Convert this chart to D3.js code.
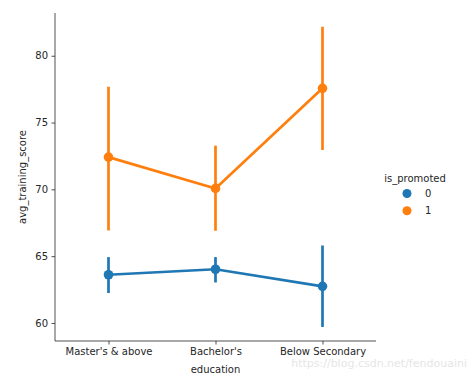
<!DOCTYPE html>
<html><head><meta charset="utf-8">
<script src="https://cdn.jsdelivr.net/npm/d3@7"></script>
<style>body{margin:0;background:#fff}svg{display:block;font-family:"DejaVu Sans",sans-serif}</style>
</head><body>
<svg id="c" width="474" height="380"></svg>
<script>
const categories = ["Master's & above", "Bachelor's", "Below Secondary"];
const seriesNames = ["0", "1"];
const mean0 = [63.61, 64.02, 62.74];
const lo0 = [62.24, 63.03, 59.70];
const hi0 = [64.93, 64.93, 65.80];
const mean1 = [72.41, 70.07, 77.56];
const lo1 = [66.92, 66.90, 72.95];
const hi1 = [77.68, 73.27, 82.17];
const yTicks = [60, 65, 70, 75, 80];
const colors = ["#1f77b4", "#ff7f0e"];

const svg = d3.select("#c");
const L = 55, R = 376, T = 13, B = 341;
const x = d3.scalePoint().domain(categories).range([L, R]).padding(0.5);
const y = d3.scaleLinear().domain([58.65, 83.2]).range([B, T]);

const series = [
  {name: seriesNames[0], mean: mean0, lo: lo0, hi: hi0, color: colors[0]},
  {name: seriesNames[1], mean: mean1, lo: lo1, hi: hi1, color: colors[1]}
];

// axes
const yAxis = svg.append("g").attr("transform", `translate(${L},0)`)
  .call(d3.axisLeft(y).tickValues(yTicks).tickSize(3.5).tickPadding(3.5));
const xAxis = svg.append("g").attr("transform", `translate(0,${B})`)
  .call(d3.axisBottom(x).tickSize(3.5).tickPadding(3.5));
[yAxis, xAxis].forEach(g => {
  g.selectAll("text").attr("font-size", 10).attr("fill", "#262626").attr("font-family", "DejaVu Sans");
  g.selectAll("line").attr("stroke", "#262626").attr("stroke-width", 0.8);
  g.select(".domain").attr("stroke", "#262626").attr("stroke-width", 0.8);
});
xAxis.select(".domain").attr("d", `M${L},0H${R}`);
yAxis.select(".domain").attr("d", `M0,${B}V${T}`);

// axis labels
svg.append("text").attr("x", (L + R) / 2).attr("y", 373).attr("text-anchor", "middle")
  .attr("font-size", 10).attr("fill", "#262626").text("education");
svg.append("text").attr("transform", `translate(26,${(T + B) / 2}) rotate(-90)`)
  .attr("text-anchor", "middle").attr("font-size", 10).attr("fill", "#262626").text("avg_training_score");

// series
series.forEach(s => {
  const g = svg.append("g");
  g.selectAll("line.ci").data(categories).enter().append("line")
    .attr("x1", d => x(d)).attr("x2", d => x(d))
    .attr("y1", (d, i) => y(s.lo[i])).attr("y2", (d, i) => y(s.hi[i]))
    .attr("stroke", s.color).attr("stroke-width", 2.7);
  const line = d3.line().x((d, i) => x(categories[i])).y(d => y(d));
  g.append("path").attr("d", line(s.mean)).attr("fill", "none")
    .attr("stroke", s.color).attr("stroke-width", 2.7);
  g.selectAll("circle").data(s.mean).enter().append("circle")
    .attr("cx", (d, i) => x(categories[i])).attr("cy", d => y(d))
    .attr("r", 4.8).attr("fill", s.color);
});

// legend
const lg = svg.append("g");
lg.append("text").attr("x", 415).attr("y", 182).attr("text-anchor", "middle")
  .attr("font-size", 10).attr("fill", "#262626").text("is_promoted");
series.forEach((s, i) => {
  lg.append("circle").attr("cx", 407).attr("cy", 193.5 + i * 17.3).attr("r", 4.5).attr("fill", s.color);
  lg.append("text").attr("x", 425).attr("y", 197 + i * 17.3).attr("font-size", 10)
    .attr("fill", "#262626").text(s.name);
});

// watermark
svg.append("text").attr("x", 467).attr("y", 367).attr("text-anchor", "end")
  .attr("font-size", 11).attr("fill", "#e6e6e6").text("https://blog.csdn.net/fendouaini");
</script>
</body></html>
